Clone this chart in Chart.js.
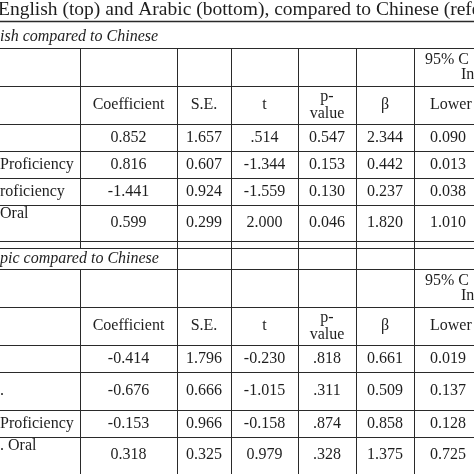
<!DOCTYPE html>
<html>
<head>
<meta charset="utf-8">
<script src="https://cdn.jsdelivr.net/npm/chart.js@4/dist/chart.umd.min.js"></script>
<style>
  html, body { margin: 0; padding: 0; background: #fff; }
  #wrap { width: 474px; height: 474px; }
</style>
</head>
<body>
<div id="wrap"><canvas id="tbl"></canvas></div>
<script>
const title = 'English (top) and Arabic (bottom), compared to Chinese (reference';
const subTop = 'ish compared to Chinese';
const subBottom = 'pic compared to Chinese';
const headers = ['Coefficient', 'S.E.', 't', 'p-|value', 'β', 'Lower'];
const ciHeader = ['95% C', 'In'];
const topLabels = ['', 'Proficiency', 'roficiency', 'Oral'];
const topValues = [
    ['0.852', '1.657', '.514', '0.547', '2.344', '0.090'],
    ['0.816', '0.607', '-1.344', '0.153', '0.442', '0.013'],
    ['-1.441', '0.924', '-1.559', '0.130', '0.237', '0.038'],
    ['0.599', '0.299', '2.000', '0.046', '1.820', '1.010']
];
const bottomLabels = ['', '.', 'Proficiency', '. Oral'];
const bottomValues = [
    ['-0.414', '1.796', '-0.230', '.818', '0.661', '0.019'],
    ['-0.676', '0.666', '-1.015', '.311', '0.509', '0.137'],
    ['-0.153', '0.966', '-0.158', '.874', '0.858', '0.128'],
    ['0.318', '0.325', '0.979', '.328', '1.375', '0.725']
];

// layout in table units (0..474 both axes)
const colX = [0, 80, 177, 231, 298, 356, 414, 480];
const topRowsY = [48, 86, 124, 151, 178, 205, 241];
const bottomRowsY = [269, 307, 345, 372, 410, 437, 480];

const tablePlugin = {
    id: 'tablePlugin',
    afterDraw(chart) {
        const ctx = chart.ctx;
        const xs = chart.scales.x, ys = chart.scales.y;
        const X = v => xs.getPixelForValue(v);
        const Y = v => ys.getPixelForValue(v);
        ctx.save();
        ctx.strokeStyle = '#2a2a2a';
        ctx.fillStyle = '#1e1e1e';
        ctx.lineWidth = 1;

        function hline(y, x0, x1, w) {
            ctx.lineWidth = w || 1;
            ctx.beginPath(); ctx.moveTo(X(x0), Y(y) + 0.5); ctx.lineTo(X(x1), Y(y) + 0.5); ctx.stroke();
        }
        function vline(x, y0, y1) {
            ctx.lineWidth = 1;
            ctx.beginPath(); ctx.moveTo(X(x) + 0.5, Y(y0)); ctx.lineTo(X(x) + 0.5, Y(y1)); ctx.stroke();
        }
        function text(s, x, y, align, font) {
            ctx.font = font || '16px "Liberation Serif", serif';
            ctx.textAlign = align || 'center';
            ctx.textBaseline = 'middle';
            ctx.fillText(s, X(x), Y(y));
        }

        // title + subtitle
        text(title, -2, 10, 'left', '19.5px "Liberation Serif", serif');
        hline(21, 0, 474, 1.5);
        text(subTop, 0, 37, 'left', 'italic 16px "Liberation Serif", serif');

        function drawBlock(rowsY, labels, values) {
            rowsY.forEach(y => hline(y, 0, 474));
            colX.slice(1, -1).forEach(x => vline(x, rowsY[0], rowsY[rowsY.length - 1]));
            // CI header
            text(ciHeader[0], 425, (rowsY[0] * 2 + rowsY[1]) / 3 - 1, 'left');
            text(ciHeader[1], 461, (rowsY[0] + rowsY[1] * 2) / 3 + 1, 'left');
            // column headers
            const hy = (rowsY[1] + rowsY[2]) / 2;
            headers.forEach((h, i) => {
                const cx = (colX[i + 1] + colX[i + 2]) / 2;
                const parts = h.split('|');
                if (parts.length > 1) {
                    text(parts[0], cx, hy - 8);
                    text(parts[1], cx, hy + 9);
                } else if (i === 5) {
                    text(h, 430, hy, 'left');
                } else {
                    text(h, cx, hy);
                }
            });
            values.forEach((row, r) => {
                const y0 = rowsY[r + 2], y1 = rowsY[r + 3];
                const last = r === values.length - 1;
                const my = last ? y0 + 18 : (y0 + y1) / 2;
                row.forEach((v, i) => {
                    if (i === 5) text(v, 430, my, 'left');
                    else text(v, (colX[i + 1] + colX[i + 2]) / 2, my);
                });
                if (labels[r]) text(labels[r], 0, last ? y0 + 9 : my, 'left');
            });
        }

        drawBlock(topRowsY, topLabels, topValues);
        // separator row and bottom subtitle
        hline(248, 0, 474);
        colX.slice(2, -1).forEach(x => vline(x, 241, 269));
        vline(80, 241, 248);
        text(subBottom, 0, 259, 'left', 'italic 16px "Liberation Serif", serif');
        drawBlock(bottomRowsY, bottomLabels, bottomValues);
        ctx.restore();
    }
};

new Chart(document.getElementById('tbl'), {
    type: 'scatter',
    data: { datasets: [{ data: [], pointRadius: 0 }] },
    options: {
        responsive: true,
        maintainAspectRatio: false,
        animation: false,
        layout: { padding: 0 },
        scales: {
            x: { type: 'linear', min: 0, max: 474, display: false },
            y: { type: 'linear', min: 0, max: 474, reverse: true, display: false }
        },
        plugins: { legend: { display: false }, tooltip: { enabled: false } }
    },
    plugins: [tablePlugin]
});
</script>
</body>
</html>
